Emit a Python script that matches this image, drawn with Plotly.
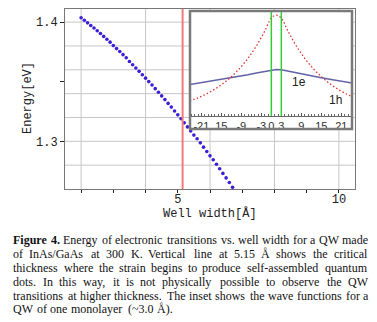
import plotly.graph_objects as go

# ---- main chart data ----
WELL_WIDTH = [2.0, 2.1, 2.2, 2.3, 2.4, 2.5, 2.6, 2.7, 2.8, 2.9,
              3.0, 3.1, 3.2, 3.3, 3.4, 3.5, 3.6, 3.7, 3.8, 3.9,
              4.0, 4.1, 4.2, 4.3, 4.4, 4.5, 4.6, 4.7, 4.8, 4.9,
              5.0, 5.1, 5.2, 5.3, 5.4, 5.5, 5.6, 5.7, 5.8, 5.9,
              6.0, 6.1, 6.2, 6.3, 6.4, 6.5, 6.6, 6.7]
ENERGY = [1.4036, 1.4015, 1.3994, 1.3972, 1.3950, 1.3927, 1.3904, 1.3880, 1.3856, 1.3832,
          1.3803, 1.3778, 1.3753, 1.3727, 1.3701, 1.3669, 1.3642, 1.3615, 1.3587, 1.3559,
          1.3530, 1.3501, 1.3472, 1.3442, 1.3412, 1.3381, 1.3350, 1.3318, 1.3287, 1.3254,
          1.3222, 1.3189, 1.3155, 1.3121, 1.3087, 1.3052, 1.3022, 1.2987, 1.2951, 1.2915,
          1.2878, 1.2845, 1.2808, 1.2770, 1.2731, 1.2693, 1.2655, 1.2615]
CRITICAL_WIDTH = 5.15

X_TICKS = [2, 3, 4, 5, 6, 7, 8, 9, 10]
X_TICK_TEXT = ["", "", "", "5", "", "", "", "", "10"]
X_GRID = [2, 4, 6, 8, 10]
Y_TICKS = [1.3, 1.35, 1.4]
Y_TICK_TEXT = ["1.3", "", "1.4"]
Y_GRID = [1.28, 1.30, 1.32, 1.34, 1.36, 1.38, 1.40]

# ---- inset data (wave functions, arbitrary units) ----
Z = [-24.5, -22, -19.5, -17, -14.5, -12, -9.5, -7, -4.5, -2, 0, 1.5, 3,
     5, 7.5, 10, 12.5, 15, 17.5, 20, 22.5, 24.5]
PSI_1H = [14.9, 18.0, 21.8, 26.5, 32.1, 38.9, 47.2, 57.2, 69.3, 84.0, 97.0, 100.0, 97.0,
          84.0, 69.3, 57.2, 47.2, 38.9, 32.1, 26.5, 21.8, 18.7]
PSI_1E = [31.1, 32.4, 33.7, 35.0, 36.4, 37.9, 39.4, 40.9, 42.6, 44.3, 45.7, 46.0, 45.7,
          44.3, 42.6, 40.9, 39.4, 37.9, 36.4, 35.0, 33.7, 32.6]
WELL_EDGES = [0, 3]
INSET_TICKS = [-21, -15, -9, -3, 0, 3, 9, 15, 21]
INSET_TICK_TEXT = ["-21", "15", "-9", "-3", "0", "3", "9", "15", "21"]

CAPTION = [
    "Figure 4. Energy of electronic transitions vs. well width for a QW made",
    "of InAs/GaAs at 300 K. Vertical line at 5.15 Å shows the critical",
    "thickness where the strain begins to produce self-assembled quantum",
    "dots. In this way, it is not physically possible to observe the QW",
    "transitions at higher thickness. The inset shows the wave functions for a",
    "QW of one monolayer (~3.0 Å).",
]
CAPTION_BOLD = ["Figure", "4."]

W, H = 377, 322
ML, MR, MT, MB = 65, 22, 9, 133
PW, PH = W - ML - MR, H - MT - MB


def px_x(p):
    return (p - ML) / PW


def px_y(p):
    return (H - MB - p) / PH


MONO = "Liberation Mono, Courier New, monospace"
SANS = "Liberation Sans, Arial, sans-serif"
SERIF = "Liberation Serif, Times New Roman, serif"

# Times-like advance widths (per 1000 em) used to justify the caption lines
TIMES = {' ': 250, 'a': 444, 'b': 500, 'c': 444, 'd': 500, 'e': 444, 'f': 333, 'g': 500,
         'h': 500, 'i': 278, 'j': 278, 'k': 500, 'l': 278, 'm': 778, 'n': 500, 'o': 500,
         'p': 500, 'q': 500, 'r': 333, 's': 389, 't': 278, 'u': 500, 'v': 500, 'w': 722,
         'x': 500, 'y': 500, 'z': 444, 'A': 722, 'B': 667, 'C': 667, 'D': 722, 'E': 611,
         'F': 556, 'G': 722, 'H': 722, 'I': 333, 'J': 389, 'K': 722, 'L': 611, 'M': 889,
         'N': 722, 'O': 722, 'P': 556, 'Q': 722, 'R': 667, 'S': 556, 'T': 611, 'U': 722,
         'V': 722, 'W': 944, 'X': 722, 'Y': 722, 'Z': 611, '.': 250, ',': 250, '/': 278,
         '(': 333, ')': 333, '-': 333, '~': 541, 'Å': 722}
TIMES_BOLD = {'F': 611, 'i': 278, 'g': 500, 'u': 556, 'r': 444, 'e': 444, '4': 500, '.': 250}
WIDTH_FUDGE = 1.04


def word_w(word, size, bold=False):
    tbl = TIMES_BOLD if bold else TIMES
    return sum(tbl.get(c, TIMES.get(c, 500)) for c in word) * size / 1000.0 * WIDTH_FUDGE


fig = go.Figure()

fig.add_trace(go.Scatter(x=WELL_WIDTH, y=ENERGY, mode="markers",
                         marker=dict(size=3.6, color="#3a1fd6"),
                         xaxis="x", yaxis="y", showlegend=False, hoverinfo="skip"))

fig.add_trace(go.Scatter(x=Z, y=PSI_1E, mode="lines",
                         line=dict(color="#6262a8", width=1.5),
                         xaxis="x2", yaxis="y2", showlegend=False, hoverinfo="skip"))
fig.add_trace(go.Scatter(x=Z, y=PSI_1H, mode="lines",
                         line=dict(color="#e03030", width=1.3, dash="1.5px,2.2px",
                                   shape="spline"),
                         xaxis="x2", yaxis="y2", showlegend=False, hoverinfo="skip"))

X_RANGE = [1.5, 10.5]
Y_RANGE = [1.26, 1.411]
INSET_X_RANGE = [-24.4, 24.2]
INSET_Y_RANGE = [-12.9, 104]

inset_x0, inset_x1 = px_x(190), px_x(352)
inset_y0, inset_y1 = px_y(129), px_y(11)

fig.update_layout(
    width=W, height=H,
    margin=dict(l=ML, r=MR, t=MT, b=MB, autoexpand=False),
    paper_bgcolor="white", plot_bgcolor="white",
    showlegend=False,
    xaxis=dict(domain=[0, 1], range=X_RANGE, tickmode="array", tickvals=X_TICKS,
               ticktext=X_TICK_TEXT, ticks="outside", ticklen=3, tickcolor="#222",
               ticklabelstandoff=-4,
               showgrid=False, zeroline=False, showline=True, linecolor="#777",
               mirror=True, anchor="y",
               tickfont=dict(family=MONO, size=12, color="#222")),
    yaxis=dict(domain=[0, 1], range=Y_RANGE, tickmode="array", tickvals=Y_TICKS,
               ticktext=Y_TICK_TEXT, ticks="outside", ticklen=4, tickcolor="#222",
               showgrid=False, zeroline=False, showline=True, linecolor="#777",
               mirror=True, anchor="x",
               tickfont=dict(family=MONO, size=12, color="#222")),
    xaxis2=dict(domain=[inset_x0, inset_x1], range=INSET_X_RANGE, anchor="free",
                position=px_y(116), tickmode="array", tickvals=INSET_TICKS,
                ticktext=INSET_TICK_TEXT, ticks="inside", ticklen=3, tickcolor="#555",
                minor=dict(tickmode="linear", tick0=0, dtick=1, ticks="inside",
                           ticklen=2, tickcolor="#666"),
                showgrid=False, zeroline=False, showline=True, linecolor="#666",
                tickfont=dict(family=SANS, size=11, color="#333")),
    yaxis2=dict(domain=[inset_y0, inset_y1], range=INSET_Y_RANGE, anchor="x2",
                showticklabels=False, ticks="", showgrid=False, zeroline=False,
                showline=False),
)

GRID_COLOR = "#c6c6c6"
shapes = []
for g in X_GRID:
    shapes.append(dict(type="line", xref="x", yref="y", x0=g, x1=g,
                       y0=Y_RANGE[0], y1=Y_RANGE[1],
                       line=dict(color=GRID_COLOR, width=1), layer="below"))
for g in Y_GRID:
    shapes.append(dict(type="line", xref="x", yref="y", x0=X_RANGE[0], x1=X_RANGE[1],
                       y0=g, y1=g, line=dict(color=GRID_COLOR, width=1), layer="below"))
shapes.append(dict(type="line", xref="x", yref="y", x0=CRITICAL_WIDTH, x1=CRITICAL_WIDTH,
                   y0=Y_RANGE[0], y1=Y_RANGE[1], line=dict(color="#f07a7a", width=2),
                   layer="above"))
for e in WELL_EDGES:
    shapes.append(dict(type="line", xref="x2", yref="y2", x0=e, x1=e, y0=0,
                       y1=INSET_Y_RANGE[1],
                       line=dict(color="#33cc33", width=1.5), layer="above"))
shapes.append(dict(type="rect", xref="x2 domain", yref="y2 domain", x0=0, x1=1, y0=0, y1=1,
                   line=dict(color="#7a7a7a", width=2.5), layer="above"))
fig.update_layout(shapes=shapes)

ann = [
    dict(text="Energy[eV]", xref="paper", yref="paper", x=px_x(28), y=px_y(98),
         xanchor="center", yanchor="middle",
         textangle=-90, showarrow=False, font=dict(family=MONO, size=12, color="#222")),
    dict(text="Well width[Å]", xref="paper", yref="paper", x=px_x(210), y=px_y(213),
         xanchor="center", yanchor="middle",
         showarrow=False, font=dict(family=MONO, size=12, color="#222")),
    dict(text="1e", xref="x2", yref="y2", x=8.3, y=33.3, showarrow=False,
         xanchor="center", yanchor="middle",
         font=dict(family=SANS, size=12, color="#222")),
    dict(text="1h", xref="x2", yref="y2", x=19.1, y=15.7, showarrow=False,
         xanchor="center", yanchor="middle",
         font=dict(family=SANS, size=12, color="#222")),
]

# caption: justified lines (last line left aligned)
CAP_SIZE = 12
CAP_LEFT, CAP_RIGHT = 12, 368
CAP_Y = [240, 254, 268, 281.7, 295.5, 309.3]
for li, (line, py) in enumerate(zip(CAPTION, CAP_Y)):
    words = line.split(" ")
    bold = [li == 0 and wi < len(CAPTION_BOLD) and w == CAPTION_BOLD[wi]
            for wi, w in enumerate(words)]
    widths = [word_w(w, CAP_SIZE, b) for w, b in zip(words, bold)]
    justify = li < len(CAPTION) - 1 and len(words) > 1
    if justify:
        gap = (CAP_RIGHT - CAP_LEFT - sum(widths)) / (len(words) - 1)
    else:
        gap = CAP_SIZE * 0.25
    xpos = CAP_LEFT
    for w, b, ww in zip(words, bold, widths):
        ann.append(dict(text=f"<b>{w}</b>" if b else w, xref="paper", yref="paper",
                        x=px_x(xpos), y=px_y(py),
                        xanchor="left", yanchor="middle",
                        showarrow=False, borderpad=0,
                        font=dict(family=SERIF, size=CAP_SIZE, color="#111")))
        xpos += ww + gap
fig.update_layout(annotations=ann)

fig.write_html("out.html", config={"displayModeBar": False},
               post_script="document.body.style.margin='0px';")
